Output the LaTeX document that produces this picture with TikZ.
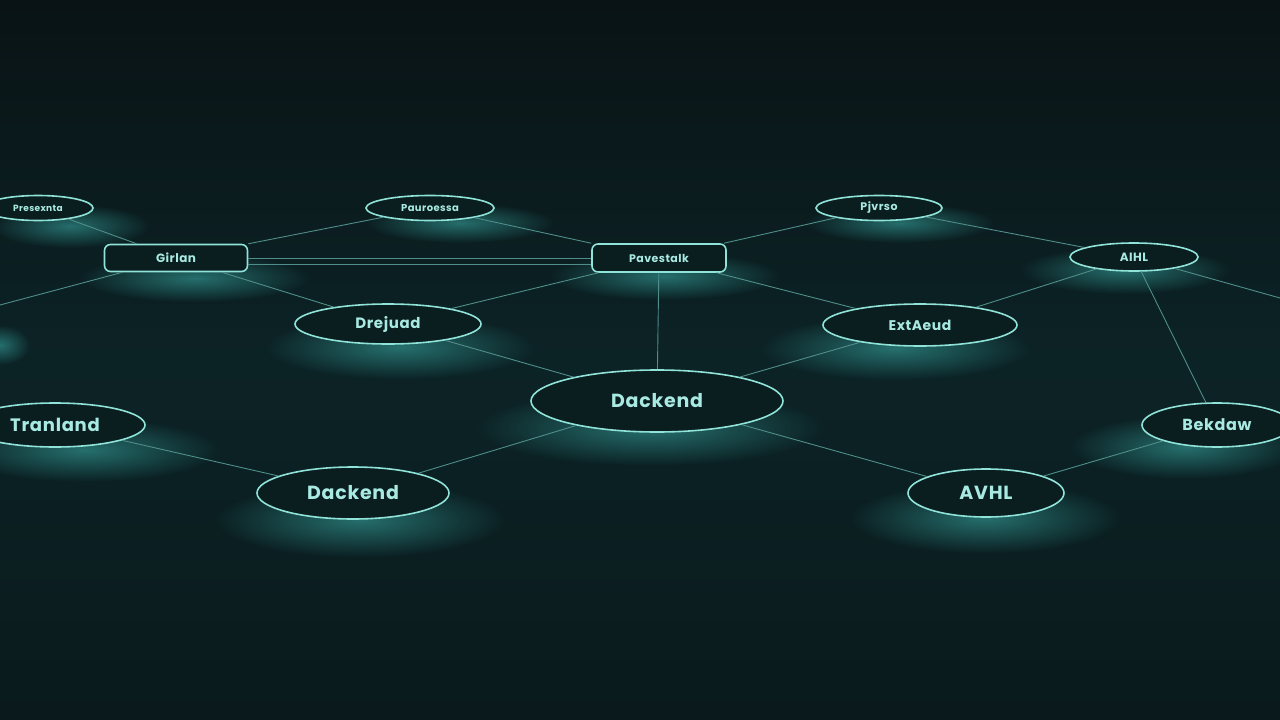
\documentclass[tikz,border=0pt]{standalone}
\usepackage{fontspec}
\setmainfont{Poppins}
\usetikzlibrary{shapes.geometric,fadings}
\definecolor{bgtop}{HTML}{091315}
\definecolor{bgmid}{HTML}{0C2326}
\definecolor{bgbot}{HTML}{0A1A1C}
\definecolor{edgec}{HTML}{4F8E8A}
\definecolor{rim}{HTML}{8FE3D8}
\definecolor{txt}{HTML}{A8EAE2}
\definecolor{nodefill}{HTML}{0A1D1F}
\definecolor{glowc}{HTML}{3CB3AD}
\tikzfading[name=softglow, inner color=transparent!10, outer color=transparent!100]
\tikzset{
  ell/.style={ellipse, draw=rim, line width=1.6pt, fill=nodefill, text=txt, inner sep=0pt},
  boxn/.style={rectangle, rounded corners=6pt, draw=rim, line width=1.6pt, fill=nodefill, text=txt, inner sep=0pt},
  link/.style={draw=edgec, line width=0.9pt},
  glow/.style={fill=glowc, path fading=softglow, fill opacity=0.6},
  fs/.style={font=\fontsize{#1}{#1}\selectfont\bfseries\addfontfeature{LetterSpace=4}}
}
\begin{document}
\begin{tikzpicture}[x=1pt,y=-1pt]
\useasboundingbox (0,0) rectangle (1280,720);
\clip (0,0) rectangle (1280,720);
\shade[top color=bgtop, bottom color=bgbot, middle color=bgmid] (0,0) rectangle (1280,720);

% glows
\fill[glow] (70,226) ellipse [x radius=80pt, y radius=22pt];
\fill[glow] (195,278) ellipse [x radius=115pt, y radius=24pt];
\fill[glow] (460,223) ellipse [x radius=95pt, y radius=20pt];
\fill[glow] (665,276) ellipse [x radius=115pt, y radius=24pt];
\fill[glow] (900,223) ellipse [x radius=95pt, y radius=20pt];
\fill[glow] (1125,270) ellipse [x radius=105pt, y radius=24pt];
\fill[glow] (400,347) ellipse [x radius=135pt, y radius=32pt];
\fill[glow] (895,348) ellipse [x radius=135pt, y radius=32pt];
\fill[glow] (650,428) ellipse [x radius=175pt, y radius=38pt];
\fill[glow] (85,450) ellipse [x radius=135pt, y radius=32pt];
\fill[glow] (360,520) ellipse [x radius=145pt, y radius=38pt];
\fill[glow] (985,518) ellipse [x radius=135pt, y radius=36pt];
\fill[glow] (1185,447) ellipse [x radius=115pt, y radius=32pt];
\fill[glow] (0,345) ellipse [x radius=30pt, y radius=20pt];

% nodes
\node[ell, minimum width=110pt, minimum height=25pt, fs=9] (tl) at (38,208) {Presexnta};
\node[boxn, minimum width=143pt, minimum height=27pt, fs=12] (gir) at (176,258) {Girlan};
\node[ell, minimum width=128pt, minimum height=25pt, fs=10] (pau) at (430,208) {Pauroessa};
\node[boxn, minimum width=134pt, minimum height=28pt, fs=11] (pav) at (659,258) {Pavestalk};
\node[ell, minimum width=126pt, minimum height=25pt, fs=11] (pjv) at (879,208) {Pjvrso};
\node[ell, minimum width=128pt, minimum height=28pt, fs=12] (aihl) at (1134,257) {AIHL};
\node[ell, minimum width=186pt, minimum height=40pt, fs=15] (dre) at (388,324) {Drejuad};
\node[ell, minimum width=194pt, minimum height=42pt, fs=14] (ext) at (920,325) {ExtAeud};
\node[ell, minimum width=252pt, minimum height=62pt, fs=19] (back) at (657,401) {Dackend};
\node[ell, minimum width=180pt, minimum height=44pt, fs=18] (tran) at (55,425) {Tranland};
\node[ell, minimum width=192pt, minimum height=52pt, fs=19] (dack) at (353,493) {Dackend};
\node[ell, minimum width=156pt, minimum height=48pt, fs=19] (avhl) at (986,493) {AVHL};
\node[ell, minimum width=150pt, minimum height=44pt, fs=16] (bek) at (1217,425) {Bekdaw};

\coordinate (offL) at (0,305);
\coordinate (offR) at (1280,298);

% connectors
\draw[link] (tl) -- (gir);
\draw[link] (gir) -- (offL);
\draw[link] (gir) -- (pau);
\draw[link] (gir.east) -- (pav.west);
\draw[link] ([yshift=-6pt]gir.east) -- ([yshift=-6pt]pav.west);
\draw[link] (gir) -- (dre);
\draw[link] (pau) -- (pav);
\draw[link] (pav) -- (dre);
\draw[link] (pav) -- (pjv);
\draw[link] (pav) -- (back);
\draw[link] (pav) -- (ext);
\draw[link] (pjv) -- (aihl);
\draw[link] (ext) -- (aihl);
\draw[link] (aihl) -- (offR);
\draw[link] (aihl) -- (bek);
\draw[link] (dre) -- (back);
\draw[link] (ext) -- (back);
\draw[link] (back) -- (dack);
\draw[link] (back) -- (avhl);
\draw[link] (tran) -- (dack);
\draw[link] (bek) -- (avhl);
\end{tikzpicture}
\end{document}
